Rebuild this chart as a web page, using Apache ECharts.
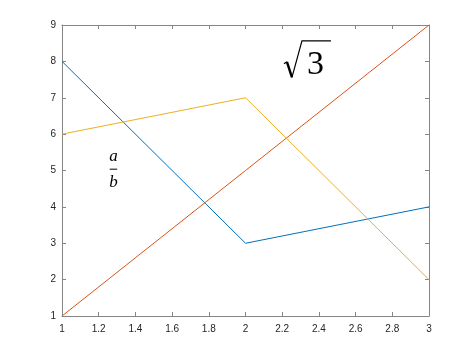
<!DOCTYPE html>
<html>
<head>
<meta charset="utf-8">
<script src="https://cdn.jsdelivr.net/npm/echarts@6/dist/echarts.min.js"></script>
<style>
html, body { margin: 0; padding: 0; background: #fff; }
#main { width: 474px; height: 355px; }
</style>
</head>
<body>
<div id="main"></div>
<script>
// data
var xs = [1, 2, 3];
var blueY = [8, 3, 4];
var orangeY = [1, 5, 9];
var yellowY = [6, 7, 2];
// annotation anchors (data coords, left-middle)
var sqrtAt = [2.215, 8.07];
var fracAt = [1.26, 5.05];

var axisGray = '#858585';
var labelColor = '#262626';

function pts(ys) {
    return xs.map(function (x, i) { return [x, ys[i]]; });
}

function lineSeries(ys, color) {
    return {
        type: 'line',
        data: pts(ys),
        showSymbol: false,
        symbol: 'none',
        lineStyle: { color: color, width: 1 },
        itemStyle: { color: color },
        animation: false
    };
}

var chart = echarts.init(document.getElementById('main'));

var tickCommon = { show: true, inside: true, length: 4, lineStyle: { color: axisGray, width: 1 } };

chart.setOption({
    backgroundColor: '#fff',
    animation: false,
    grid: { left: 62, right: 45, top: 25, bottom: 39 },
    xAxis: [
        {
            type: 'value', min: 1, max: 3, interval: 0.2,
            axisLine: { show: true, onZero: false, lineStyle: { color: axisGray, width: 1 } },
            axisTick: tickCommon,
            splitLine: { show: false },
            axisLabel: { color: labelColor, fontFamily: 'Liberation Sans', fontSize: 10, margin: 8,
                formatter: function (v) { return +v.toFixed(1) + ''; } }
        },
        {
            type: 'value', min: 1, max: 3, interval: 0.2, position: 'top',
            axisLine: { show: true, onZero: false, lineStyle: { color: axisGray, width: 1 } },
            axisTick: tickCommon,
            splitLine: { show: false },
            axisLabel: { show: false }
        }
    ],
    yAxis: [
        {
            type: 'value', min: 1, max: 9, interval: 1,
            axisLine: { show: true, onZero: false, lineStyle: { color: axisGray, width: 1 } },
            axisTick: tickCommon,
            splitLine: { show: false },
            axisLabel: { color: labelColor, fontFamily: 'Liberation Sans', fontSize: 10, margin: 6 }
        },
        {
            type: 'value', min: 1, max: 9, interval: 1, position: 'right',
            axisLine: { show: true, onZero: false, lineStyle: { color: axisGray, width: 1 } },
            axisTick: tickCommon,
            splitLine: { show: false },
            axisLabel: { show: false }
        }
    ],
    series: [
        lineSeries(blueY, '#0072BD'),
        lineSeries(orangeY, '#D95319'),
        lineSeries(yellowY, '#EDB120')
    ]
});

// math annotations placed at data coordinates
var s = chart.convertToPixel({ xAxisIndex: 0, yAxisIndex: 0 }, sqrtAt);
var f = chart.convertToPixel({ xAxisIndex: 0, yAxisIndex: 0 }, fracAt);

chart.setOption({
    graphic: [
        {
            type: 'group', x: s[0], y: s[1],
            children: [
                { type: 'polyline', shape: { points: [[-1, 5], [2, 3]] }, style: { stroke: '#000', lineWidth: 1.2, fill: null } },
                { type: 'polyline', shape: { points: [[2, 3], [7, 18.5]] }, style: { stroke: '#000', lineWidth: 2.4, fill: null } },
                { type: 'polyline', shape: { points: [[7, 18.5], [17, -18], [46, -18]] }, style: { stroke: '#000', lineWidth: 1.2, fill: null } },
                { type: 'text', x: 30.5, y: 6, style: { text: '3', fill: '#000', font: '34px "Liberation Serif"', align: 'center', verticalAlign: 'middle' } }
            ]
        },
        {
            type: 'group', x: f[0], y: f[1],
            children: [
                { type: 'text', x: 3.8, y: -12.5, style: { text: 'a', fill: '#000', font: 'italic 17px "Liberation Serif"', align: 'center', verticalAlign: 'middle' } },
                { type: 'line', shape: { x1: 0, y1: 0.5, x2: 7.5, y2: 0.5 }, style: { stroke: '#000', lineWidth: 1 } },
                { type: 'text', x: 3.8, y: 14, style: { text: 'b', fill: '#000', font: 'italic 17px "Liberation Serif"', align: 'center', verticalAlign: 'middle' } }
            ]
        }
    ]
});
</script>
</body>
</html>
